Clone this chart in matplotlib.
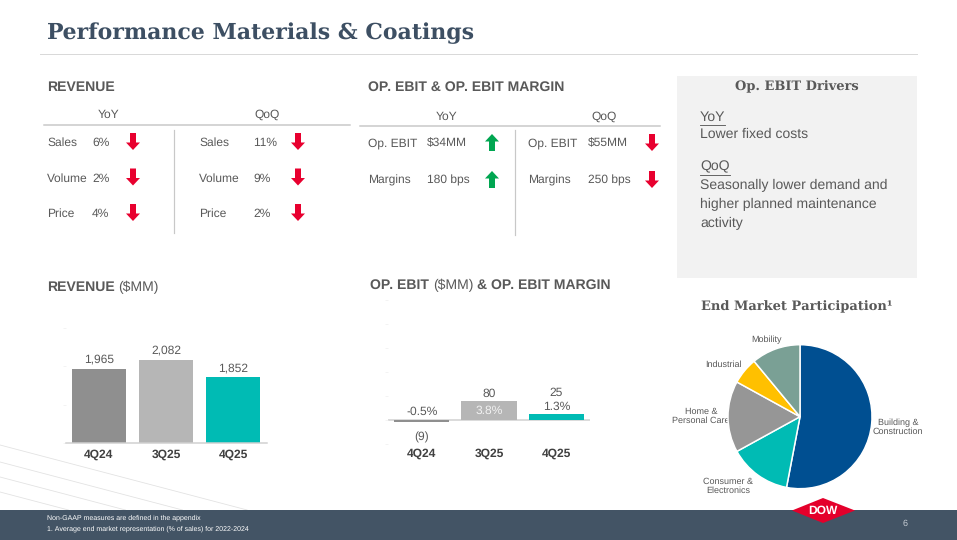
import matplotlib.pyplot as plt
from matplotlib.patches import Polygon, Rectangle

# ---------------------------------------------------------------- data
quarters = ['4Q24', '3Q25', '4Q25']
revenue = [1965, 2082, 1852]
op_ebit = [-9, 80, 25]
op_margin = [-0.5, 3.8, 1.3]
bar_colors = ['#8f8f8f', '#b6b6b6', '#00bbb4']

rev_rows = ['Sales', 'Volume', 'Price']
rev_yoy = ['6%', '2%', '4%']
rev_yoy_dir = [-1, -1, -1]
rev_qoq = ['11%', '9%', '2%']
rev_qoq_dir = [-1, -1, -1]

ebit_rows = ['Op. EBIT', 'Margins']
ebit_yoy = ['$34MM', '180 bps']
ebit_yoy_dir = [1, 1]
ebit_qoq = ['$55MM', '250 bps']
ebit_qoq_dir = [-1, -1]

markets = ['Building &\nConstruction', 'Consumer &\nElectronics',
           'Home &\nPersonal Care', 'Industrial', 'Mobility']
market_share = [53, 14, 16, 6, 11]
market_colors = ['#004f91', '#00bbb4', '#969696', '#ffc000', '#7aa095']

drivers_yoy = 'Lower fixed costs'
drivers_qoq = ['Seasonally lower demand and', 'higher planned maintenance', 'activity']

# ---------------------------------------------------------------- figure
W, H = 957, 540
plt.rcParams['font.family'] = ['Liberation Sans', 'DejaVu Sans']
plt.rcParams['text.hinting'] = 'no_hinting'
plt.rcParams['text.hinting_factor'] = 1
fig = plt.figure(figsize=(W / 72, H / 72), dpi=72)
GREY = '#595959'
RED = '#e8002f'
GREEN = '#00a651'


def px_axes(x0, y0, x1, y1):
    # box given in pixels, top-left origin
    return fig.add_axes([x0 / W, 1 - y1 / H, (x1 - x0) / W, (y1 - y0) / H])


ov = px_axes(0, 0, W, H)
ov.set_xlim(0, W)
ov.set_ylim(H, 0)
ov.axis('off')
fig.canvas.draw()
r = fig.canvas.get_renderer()


def chain(x, y, parts, size):
    # several runs of text on one line, bold / normal
    for txt, bold in parts:
        t = ov.text(x, y, txt, size=size, color=GREY, va='center',
                    weight='bold' if bold else 'normal')
        x += t.get_window_extent(r).width + size * 0.28


# background decoration
for y0 in [445, 462, 477, 492]:
    ov.plot([0, (510 - y0) / 0.263], [y0, 510], color='#e2e2e2', lw=0.8, zorder=0)

# title
ov.text(47, 33, 'Performance Materials & Coatings', family='DejaVu Serif',
        weight='bold', size=21.6, color='#3d4f63', va='center')
ov.plot([40, 917], [54, 54], color='#d9d9d9', lw=1)


def arrow(x, ytop, d):
    # block arrow, d=-1 down, d=1 up
    if d < 0:
        pts = [(x - 3, ytop), (x + 3, ytop), (x + 3, ytop + 9.5), (x + 7, ytop + 9.5),
               (x, ytop + 17), (x - 7, ytop + 9.5), (x - 3, ytop + 9.5)]
        col = RED
    else:
        pts = [(x - 3, ytop + 17), (x + 3, ytop + 17), (x + 3, ytop + 7.5), (x + 7, ytop + 7.5),
               (x, ytop), (x - 7, ytop + 7.5), (x - 3, ytop + 7.5)]
        col = GREEN
    ov.add_patch(Polygon(pts, closed=True, color=col, lw=0))


# ---------------------------------------------------------------- revenue table
ov.text(47, 87, 'REVENUE', weight='bold', size=13.5, color=GREY, va='center')
ov.text(109, 115, 'YoY', size=11.5, color=GREY, ha='center', va='center')
ov.text(267, 115, 'QoQ', size=11.5, color=GREY, ha='center', va='center')
ov.plot([44, 350], [125, 125], color='#c8c8c8', lw=1.5)
ov.plot([174, 174], [130, 233], color='#c8c8c8', lw=1.2)
for i, lab in enumerate(rev_rows):
    y = 143 + i * 35.5
    ov.text(47, y, lab, size=12, color=GREY, va='center')
    ov.text(92, y, rev_yoy[i], size=12, color=GREY, va='center')
    arrow(133, y - 10, rev_yoy_dir[i])
    ov.text(199, y, lab, size=12, color=GREY, va='center')
    ov.text(253, y, rev_qoq[i], size=12, color=GREY, va='center')
    arrow(298, y - 10, rev_qoq_dir[i])

# ---------------------------------------------------------------- op ebit table
ov.text(368, 87, 'OP. EBIT & OP. EBIT MARGIN', weight='bold', size=13.5, color=GREY, va='center')
ov.text(447, 117, 'YoY', size=11.5, color=GREY, ha='center', va='center')
ov.text(604, 117, 'QoQ', size=11.5, color=GREY, ha='center', va='center')
ov.plot([360, 660], [125.5, 125.5], color='#c8c8c8', lw=1.5)
ov.plot([515, 515], [130, 235], color='#c8c8c8', lw=1.2)
for i, lab in enumerate(ebit_rows):
    y = 143 + i * 37
    ov.text(368, y, lab, size=12, color=GREY, va='center')
    ov.text(427, y, ebit_yoy[i], size=12, color=GREY, va='center')
    arrow(492, y - 9, ebit_yoy_dir[i])
    ov.text(528, y, lab, size=12, color=GREY, va='center')
    ov.text(588, y, ebit_qoq[i], size=12, color=GREY, va='center')
    arrow(652, y - 9, ebit_qoq_dir[i])

# ---------------------------------------------------------------- drivers box
ov.add_patch(Rectangle((677, 76), 240, 202, color='#f2f2f2', lw=0, zorder=0))
ov.text(797, 87, 'Op. EBIT Drivers', family='DejaVu Serif', weight='bold',
        size=13, color=GREY, ha='center', va='center')
for txt, y in [('YoY', 117), ('QoQ', 167)]:
    t = ov.text(700, y, txt, size=14, color=GREY, va='center')
    bb = t.get_window_extent(r)
    ov.plot([700, 700 + bb.width], [y + 7.5, y + 7.5], color=GREY, lw=0.9)
ov.text(700, 134, drivers_yoy, size=14, color=GREY, va='center')
for i, line in enumerate(drivers_qoq):
    ov.text(700, 185 + i * 19, line, size=14, color=GREY, va='center')

# ---------------------------------------------------------------- revenue bars
chain(47, 287, [('REVENUE', True), ('($MM)', False)], 13.5)

ax1 = px_axes(66, 289, 267, 443)
ax1.patch.set_alpha(0)
ax1.bar(range(len(quarters)), revenue, width=0.8, color=bar_colors)
ax1.set_xlim(-0.49, 2.5)
ax1.set_ylim(1000, 3000)
ax1.set_yticks([1000, 1500, 2000, 2500])
ax1.set_yticklabels([])
ax1.tick_params(axis='y', length=3, color='#f0f0f0')
ax1.set_xticks(range(len(quarters)))
ax1.set_xticklabels(quarters, weight='bold', size=12, color='#404040')
ax1.tick_params(axis='x', length=0, pad=6)
for s in ['top', 'right', 'left']:
    ax1.spines[s].set_visible(False)
ax1.spines['bottom'].set_color('#d0d0d0')
ax1.spines['bottom'].set_linewidth(1.5)
for i, v in enumerate(revenue):
    ax1.annotate(f'{v:,}', (i, v), xytext=(0, 9), textcoords='offset points',
                 ha='center', va='center', size=12, color=GREY)

# ---------------------------------------------------------------- op ebit bars
chain(370, 285, [('OP. EBIT', True), ('($MM)', False), ('& OP. EBIT MARGIN', True)], 13.5)

ax2 = px_axes(388, 300, 590, 444)
ax2.patch.set_alpha(0)
ax2.bar(range(len(quarters)), op_ebit, width=0.82, color=bar_colors)
ax2.axhline(0, color='#d0d0d0', lw=1.5, zorder=0)
ax2.set_xlim(-0.5, 2.5)
ax2.set_ylim(-100, 500)
ax2.set_yticks(range(-100, 501, 100))
ax2.set_yticklabels([])
ax2.tick_params(axis='y', length=3, color='#f0f0f0')
ax2.set_xticks(range(len(quarters)))
ax2.set_xticklabels(quarters, weight='bold', size=12, color='#404040')
ax2.tick_params(axis='x', length=0, pad=4)
for s in ax2.spines.values():
    s.set_visible(False)
for i, (v, m) in enumerate(zip(op_ebit, op_margin)):
    vtxt = f'({-v})' if v < 0 else f'{v}'
    mtxt = f'{m:.1f}%'
    if v >= 60:
        ax2.annotate(mtxt, (i, v / 2), ha='center', va='center', size=12, color='#f2f2f2')
        ax2.annotate(vtxt, (i, v), xytext=(0, 7), textcoords='offset points',
                     ha='center', va='center', size=12, color=GREY)
    elif v >= 0:
        ax2.annotate(mtxt, (i, v), xytext=(0, 7), textcoords='offset points',
                     ha='center', va='center', size=12, color=GREY)
        ax2.annotate(vtxt, (i, v), xytext=(0, 21), textcoords='offset points',
                     ha='center', va='center', size=12, color=GREY)
    else:
        ax2.annotate(mtxt, (i, 0), xytext=(0, 8), textcoords='offset points',
                     ha='center', va='center', size=12, color=GREY)
        ax2.annotate(vtxt, (i, v), xytext=(0, -15), textcoords='offset points',
                     ha='center', va='center', size=12, color=GREY)

# ---------------------------------------------------------------- pie
ov.text(797, 307, 'End Market Participation\u00b9', family='DejaVu Serif', weight='bold',
        size=12.6, color=GREY, ha='center', va='center')
ax3 = px_axes(728, 344.7, 872, 488.7)
ax3.pie(market_share, colors=market_colors, startangle=90, counterclock=False,
        wedgeprops=dict(edgecolor='white', linewidth=1.5))
ax3.set_xlim(-1, 1)
ax3.set_ylim(-1, 1)
label_pos = [(898, 427), (728, 486), (701, 416), (723, 365), (767, 340)]
for lab, (x, y) in zip(markets, label_pos):
    ov.text(x, y, lab, size=9, color=GREY, ha='center', va='center', linespacing=1.05)

# ---------------------------------------------------------------- footer
ov.add_patch(Rectangle((0, 510), W, 30, color='#435465', lw=0, zorder=1))
ov.text(47, 518, 'Non-GAAP measures are defined in the appendix', size=6.5,
        color='white', va='center', zorder=2)
ov.text(47, 529, '1. Average end market representation (% of sales) for 2022-2024', size=6.5,
        color='white', va='center', zorder=2)
ov.text(905, 524, '6', size=9, color='#c5ccd4', ha='center', va='center', zorder=2)
ov.add_patch(Polygon([(792, 510.5), (823, 498), (855, 510.5), (823, 523)], closed=True,
                     color='#e4002b', lw=0, zorder=3))
ov.text(823, 511, 'DOW', weight='bold', size=12, color='white', ha='center', va='center', zorder=4)

fig.savefig('out.png', dpi=72)
